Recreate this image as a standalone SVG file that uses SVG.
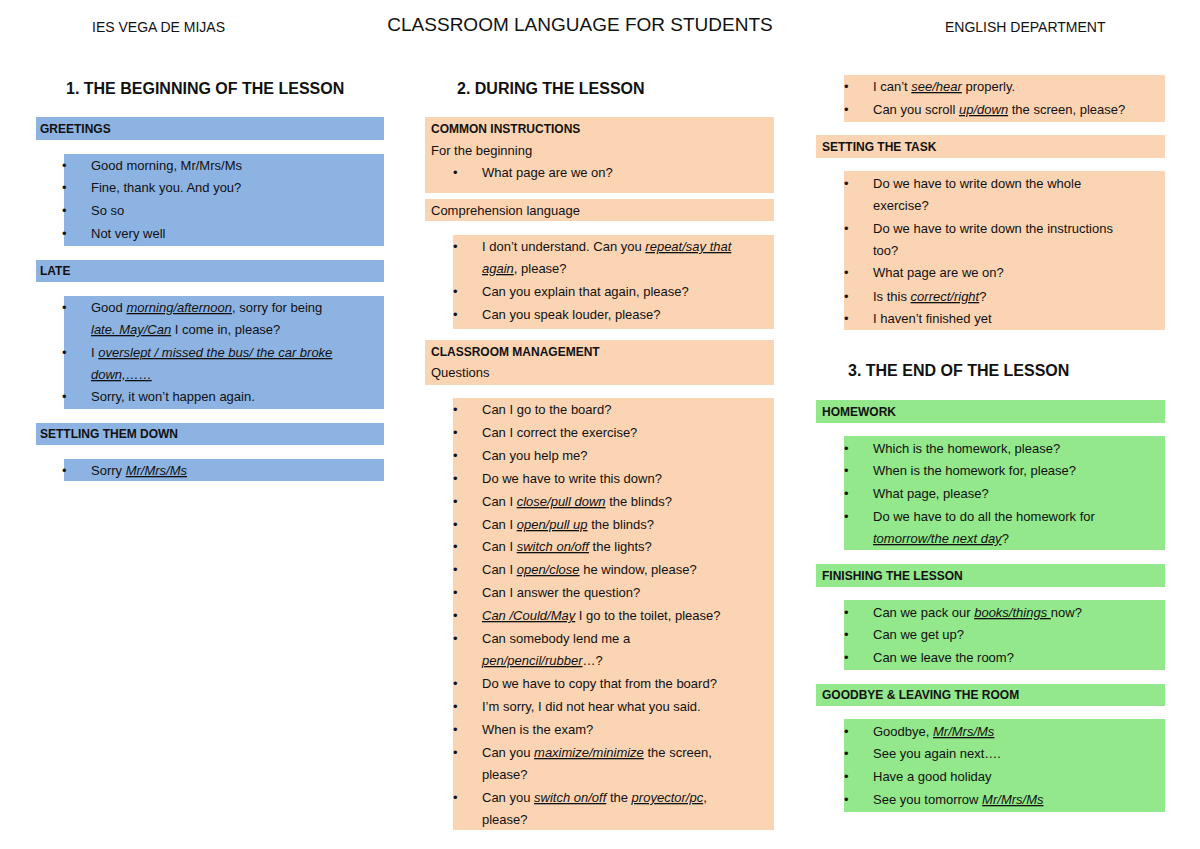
<svg xmlns="http://www.w3.org/2000/svg" width="1200" height="849" viewBox="0 0 1200 849">
<style>
text{font-family:"Liberation Sans",Arial,sans-serif;font-size:13px;fill:#111}
.h{font-weight:bold;font-size:12px}
.t{font-size:14px}
.big{font-size:19px}
.sec{font-size:16px;font-weight:bold}
.u{font-style:italic;text-decoration:underline}
.b{fill:#8db3e2}.o{fill:#fbd4b4}.g{fill:#92e88a}
</style>
<rect width="1200" height="849" fill="#fff"/>
<text class="t" x="92" y="32">IES VEGA DE MIJAS</text>
<text class="big" x="580" y="31" text-anchor="middle">CLASSROOM LANGUAGE FOR STUDENTS</text>
<text class="t" x="945" y="32">ENGLISH DEPARTMENT</text>

<g id="col1">
<text class="sec" x="66" y="94">1.  THE BEGINNING OF THE LESSON</text>
<rect class="b" x="36" y="117" width="348" height="23"/><text class="h" x="40" y="133">GREETINGS</text>
<rect class="b" x="64" y="154" width="320" height="92"/>
<g><text x="62" y="170">•</text><text x="91" y="170">Good morning, Mr/Mrs/Ms</text>
<text x="62" y="192">•</text><text x="91" y="192">Fine, thank you. And you?</text>
<text x="62" y="215">•</text><text x="91" y="215">So so</text>
<text x="62" y="238">•</text><text x="91" y="238">Not very well</text></g>
<rect class="b" x="36" y="260" width="348" height="22"/><text class="h" x="40" y="275">LATE</text>
<rect class="b" x="64" y="296" width="320" height="113"/>
<text x="62" y="312">•</text><text x="91" y="312">Good <tspan class="u">morning/afternoon</tspan>, sorry for being</text>
<text x="91" y="334"><tspan class="u">late. May/Can</tspan> I come in, please?</text>
<text x="62" y="357">•</text><text x="91" y="357">I <tspan class="u">overslept / missed the bus/ the car broke</tspan></text>
<text x="91" y="379"><tspan class="u">down,……</tspan></text>
<text x="62" y="401">•</text><text x="91" y="401">Sorry, it won’t happen again.</text>
<rect class="b" x="36" y="423" width="348" height="22"/><text class="h" x="40" y="438">SETTLING THEM DOWN</text>
<rect class="b" x="64" y="459" width="320" height="22"/>
<text x="62" y="475">•</text><text x="91" y="475">Sorry <tspan class="u">Mr/Mrs/Ms</tspan></text>
</g>

<g id="col2">
<text class="sec" x="457" y="94">2.  DURING THE LESSON</text>
<rect class="o" x="425" y="117" width="349" height="76"/>
<text class="h" x="431" y="133">COMMON INSTRUCTIONS</text>
<text x="431" y="155">For the beginning</text>
<text x="453" y="177">•</text><text x="482" y="177">What page are we on?</text>
<rect class="o" x="425" y="199" width="349" height="22"/><text x="431" y="215">Comprehension language</text>
<rect class="o" x="453" y="235" width="321" height="94"/>
<text x="453" y="251">•</text><text x="482" y="251">I don’t understand. Can you <tspan class="u">repeat/say that</tspan></text>
<text x="482" y="273"><tspan class="u">again</tspan>, please?</text>
<text x="453" y="296">•</text><text x="482" y="296">Can you explain that again, please?</text>
<text x="453" y="319">•</text><text x="482" y="319">Can you speak louder, please?</text>
<rect class="o" x="425" y="340" width="349" height="45"/>
<text class="h" x="431" y="356">CLASSROOM MANAGEMENT</text>
<text x="431" y="377">Questions</text>
<rect class="o" x="453" y="398" width="321" height="432"/>
<g>
<text x="453" y="414">•</text><text x="482" y="414">Can I go to the board?</text>
<text x="453" y="437">•</text><text x="482" y="437">Can I correct the exercise?</text>
<text x="453" y="460">•</text><text x="482" y="460">Can you help me?</text>
<text x="453" y="483">•</text><text x="482" y="483">Do we have to write this down?</text>
<text x="453" y="506">•</text><text x="482" y="506">Can I <tspan class="u">close/pull down</tspan> the blinds?</text>
<text x="453" y="529">•</text><text x="482" y="529">Can I <tspan class="u">open/pull up</tspan> the blinds?</text>
<text x="453" y="551">•</text><text x="482" y="551">Can I <tspan class="u">switch on/off</tspan> the lights?</text>
<text x="453" y="574">•</text><text x="482" y="574">Can I <tspan class="u">open/close</tspan> he window, please?</text>
<text x="453" y="597">•</text><text x="482" y="597">Can I answer the question?</text>
<text x="453" y="620">•</text><text x="482" y="620"><tspan class="u">Can /Could/May</tspan> I go to the toilet, please?</text>
<text x="453" y="643">•</text><text x="482" y="643">Can somebody lend me a</text>
<text x="482" y="665"><tspan class="u">pen/pencil/rubber</tspan>…?</text>
<text x="453" y="688">•</text><text x="482" y="688">Do we have to copy that from the board?</text>
<text x="453" y="711">•</text><text x="482" y="711">I’m sorry, I did not hear what you said.</text>
<text x="453" y="734">•</text><text x="482" y="734">When is the exam?</text>
<text x="453" y="757">•</text><text x="482" y="757">Can you <tspan class="u">maximize/minimize</tspan> the screen,</text>
<text x="482" y="779">please?</text>
<text x="453" y="802">•</text><text x="482" y="802">Can you <tspan class="u">switch on/off</tspan> the <tspan class="u">proyector/pc</tspan>,</text>
<text x="482" y="824">please?</text>
</g>
</g>

<g id="col3">
<rect class="o" x="844" y="75" width="321" height="47"/>
<text x="844" y="91">•</text><text x="873" y="91">I can’t <tspan class="u">see/hear</tspan> properly.</text>
<text x="844" y="114">•</text><text x="873" y="114">Can you scroll <tspan class="u">up/down</tspan> the screen, please?</text>
<rect class="o" x="816" y="135" width="349" height="23"/><text class="h" x="822" y="151">SETTING THE TASK</text>
<rect class="o" x="844" y="171" width="321" height="159"/>
<text x="844" y="188">•</text><text x="873" y="188">Do we have to write down the whole</text>
<text x="873" y="210">exercise?</text>
<text x="844" y="233">•</text><text x="873" y="233">Do we have to write down the instructions</text>
<text x="873" y="255">too?</text>
<text x="844" y="277">•</text><text x="873" y="277">What page are we on?</text>
<text x="844" y="301">•</text><text x="873" y="301">Is this <tspan class="u">correct/right</tspan>?</text>
<text x="844" y="323">•</text><text x="873" y="323">I haven’t finished yet</text>
<text class="sec" x="848" y="376">3.  THE END OF THE LESSON</text>
<rect class="g" x="816" y="400" width="349" height="23"/><text class="h" x="822" y="416">HOMEWORK</text>
<rect class="g" x="844" y="436" width="321" height="114"/>
<text x="844" y="453">•</text><text x="873" y="453">Which is the homework, please?</text>
<text x="844" y="475">•</text><text x="873" y="475">When is the homework for, please?</text>
<text x="844" y="498">•</text><text x="873" y="498">What page, please?</text>
<text x="844" y="521">•</text><text x="873" y="521">Do we have to do all the homework for</text>
<text x="873" y="543"><tspan class="u">tomorrow/the next day</tspan>?</text>
<rect class="g" x="816" y="564" width="349" height="23"/><text class="h" x="822" y="580">FINISHING THE LESSON</text>
<rect class="g" x="844" y="600" width="321" height="70"/>
<text x="844" y="617">•</text><text x="873" y="617">Can we pack our <tspan class="u">books/things </tspan>now?</text>
<text x="844" y="639">•</text><text x="873" y="639">Can we get up?</text>
<text x="844" y="662">•</text><text x="873" y="662">Can we leave the room?</text>
<rect class="g" x="816" y="684" width="349" height="22"/><text class="h" x="822" y="699">GOODBYE &amp; LEAVING THE ROOM</text>
<rect class="g" x="844" y="719" width="321" height="93"/>
<text x="844" y="736">•</text><text x="873" y="736">Goodbye, <tspan class="u">Mr/Mrs/Ms</tspan></text>
<text x="844" y="758">•</text><text x="873" y="758">See you again next….</text>
<text x="844" y="781">•</text><text x="873" y="781">Have a good holiday</text>
<text x="844" y="804">•</text><text x="873" y="804">See you tomorrow <tspan class="u">Mr/Mrs/Ms</tspan></text>
</g>
</svg>
